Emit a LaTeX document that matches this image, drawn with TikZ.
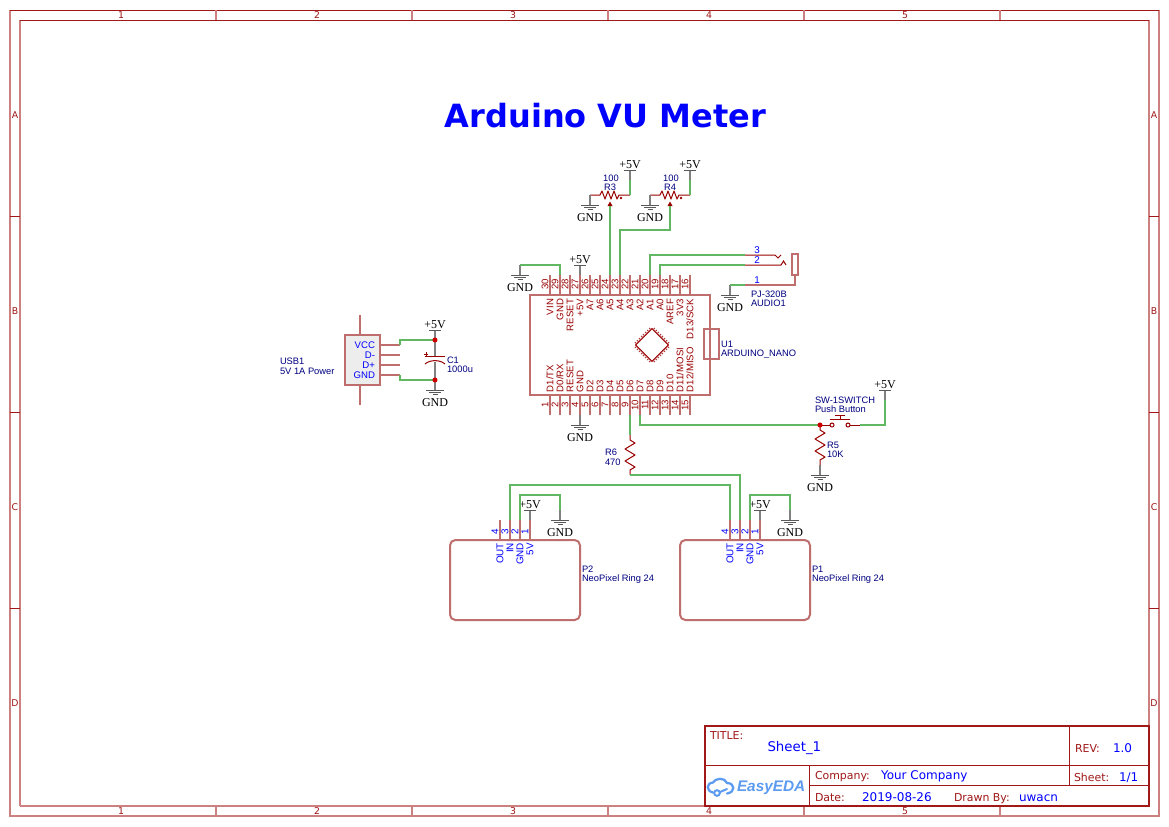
\documentclass[tikz,border=0pt]{standalone}
\usepackage{fontspec}
\usetikzlibrary{calc}
\newfontfamily\lsans{Liberation Sans}
\newfontfamily\lserif{Liberation Serif}
\newfontfamily\dejav{DejaVu Sans}
\definecolor{sch}{HTML}{990000}
\definecolor{schp}{HTML}{BF6E6E}
\definecolor{wirec}{HTML}{62B862}
\definecolor{symc}{HTML}{808080}
\definecolor{lab}{HTML}{000080}
\definecolor{pinb}{HTML}{0000FF}
\definecolor{frm}{HTML}{A01818}
\definecolor{frmp}{HTML}{CC8080}
\definecolor{logoc}{HTML}{5C9BF0}
\tikzset{
 every node/.style={inner sep=0pt,outer sep=0pt},
 frameline/.style={draw=frmp,line width=1.5pt},
 framethin/.style={draw=frm,line width=0.75pt},
 framelabel/.style={text=frm,font=\dejav\fontsize{7}{8}\selectfont},
 part/.style={draw=schp,line width=1.5pt},
 partthin/.style={draw=sch,line width=0.75pt},
 wire/.style={draw=wirec,line width=1.5pt},
 sym/.style={draw=symc,line width=1.5pt},
 symbar/.style={draw=black!65,line width=0.75pt},
 powertext/.style={text=black,font=\lserif\fontsize{9}{10}\selectfont},
 partlabel/.style={text=lab,font=\lsans\fontsize{7}{8}\selectfont,anchor=west},
 pinlabel/.style={text=pinb,font=\lsans\fontsize{7.4}{8}\selectfont},
 pinnum/.style={text=sch,font=\lsans\fontsize{7.2}{8}\selectfont,rotate=90},
 pinname/.style={text=sch,font=\lsans\fontsize{7.2}{8}\selectfont,rotate=90},
 blockk/.style={text=frm,font=\dejav\fontsize{8.2}{9}\selectfont,anchor=base west},
 blockv/.style={text=pinb,font=\dejav\fontsize{9}{10}\selectfont,anchor=base west},
 dot/.style={circle,fill=red!80!black,minimum size=3.8pt}
}
% GND symbol: name, x, y of the wire end
\newcommand{\gndsym}[3]{%
 \coordinate (#1) at (#2,#3);
 \draw[sym] (#1) -- ++(0,10);
 \draw[symbar] ($(#1)+(-9,10)$) -- ++(18,0);
 \draw[symbar] ($(#1)+(-6,12.3)$) -- ++(12,0);
 \draw[symbar] ($(#1)+(-2.5,14.5)$) -- ++(5,0);
 \node[powertext] (#1t) at ($(#1)+(0,22.5)$) {GND};
}
% +5V symbol: name, x, y of the wire end (10 below the bar)
\newcommand{\vccsym}[3]{%
 \coordinate (#1) at (#2,#3);
 \draw[sym] (#1) -- ++(0,-10);
 \draw[symbar] ($(#1)+(-6,-10)$) -- ++(12,0);
 \node[powertext] (#1t) at ($(#1)+(0,-15)$) {+5V};
}
\begin{document}
\begin{tikzpicture}[x=0.75pt,y=-0.75pt]
\useasboundingbox (0,0) rectangle (1169,826);
\fill[white] (0,0) rectangle (1169,826);
% ---------- sheet frame
\draw[frameline] (10,10) -- (10,816) -- (1159,816) -- (1159,10);
\draw[frameline] (20,20) -- (20,806);
\draw[frameline] (1149,20) -- (1149,726);
\draw[frameline] (20,806) -- (705,806);
\draw[framethin] (10,10) -- (1159,10);
\draw[framethin] (20,20) -- (1149,20);
\foreach \x in {216,412,608,804,1000}{
 \draw[frameline] (\x,10) -- (\x,20);
 \draw[frameline] (\x,806) -- (\x,816);}
\foreach \y in {216,412,608}{
 \draw[framethin] (10,\y) -- (20,\y);
 \draw[framethin] (1149,\y) -- (1159,\y);}
\foreach \t/\x in {1/121,2/317,3/513,4/709,5/905}{
 \node[framelabel] (ft\t) at (\x,15.5) {\t};
 \node[framelabel] (fb\t) at (\x,811.5) {\t};}
\foreach \t/\y in {A/115,B/311,C/507,D/703}{
 \node[framelabel] (fl\t) at (15,\y) {\t};
 \node[framelabel] (fr\t) at (1154,\y) {\t};}
% ---------- title
\node[text=pinb,font=\dejav\bfseries\fontsize{24}{28}\selectfont] (maintitle) at (605.5,116) {Arduino VU Meter};
% ---------- title block
\draw[frm,line width=1pt] (705,726) rectangle (1149,806);
\draw[framethin] (705,765) -- (1149,765);
\draw[framethin] (1069,726) -- (1069,785);
\draw[framethin] (809,785) -- (1149,785);
\draw[framethin] (809,765) -- (809,806);
\node[blockk] (tTitle) at (710,739) {TITLE:};
\node[blockv,font=\dejav\fontsize{10}{12}\selectfont] (tSheet) at (767.5,751.5) {Sheet\_1};
\node[blockk] (tRev) at (1075,752) {REV:};
\node[blockv] (tRevv) at (1113,752) {1.0};
\node[blockk] (tComp) at (815,779.5) {Company:};
\node[blockv] (tCompv) at (881,779) {Your Company};
\node[blockk] (tSh) at (1074,781) {Sheet:};
\node[blockv] (tShv) at (1119,781) {1/1};
\node[blockk] (tDate) at (815,801.5) {Date:};
\node[blockv] (tDatev) at (862,801.5) {2019-08-26};
\node[blockk] (tBy) at (954,801.5) {Drawn By:};
\node[blockv] (tByv) at (1019,801.5) {uwacn};
% logo
\draw[logoc,line width=1.7pt,line cap=round,line join=round]
 (713,792.5) .. controls (706,791) and (706,783) .. (713,782.5)
 .. controls (715,778) and (725,777) .. (727,783)
 .. controls (735,783) and (736,792) .. (727,793.5);
\draw[logoc,line width=1.5pt] (717,793) circle (2.8);
\draw[logoc,line width=1.5pt,line cap=round] (720,792) -- (727,789);
\node[text=logoc,anchor=west,font=\lsans\bfseries\itshape\fontsize{11.5}{13}\selectfont] (logotext) at (737,788) {EasyEDA};
% ---------- U1 Arduino Nano
\draw[part] (530,295) rectangle (710,395);
\draw[part] (704,329) rectangle (719,359);
\node[partlabel] (U1a) at (721,344.5) {U1};
\node[partlabel] (U1b) at (721,354) {ARDUINO\_NANO};
\foreach \n/\nm [count=\i from 0] in {30/VIN,29/GND,28/RESET,27/+5V,26/A7,25/A6,24/A5,23/A4,22/A3,21/A2,20/A1,19/A0,18/AREF,17/3V3,16/D13\slash SCK}{
 \pgfmathtruncatemacro{\px}{550+10*\i}
 \coordinate (u\n) at (\px,275);
 \draw[part] (u\n) -- ++(0,20);
 \node[pinnum] (un\n) at (\px-5,284) {\n};
 \node[pinname,anchor=east] (us\n) at (\px,299) {\nm};
}
\foreach \n/\nm [count=\i from 0] in {1/D1\slash TX,2/D0\slash RX,3/RESET,4/GND,5/D2,6/D3,7/D4,8/D5,9/D6,10/D7,11/D8,12/D9,13/D10,14/D11\slash MOSI,15/D12\slash MISO}{
 \pgfmathtruncatemacro{\px}{550+10*\i}
 \coordinate (u\n) at (\px,415);
 \draw[part] (u\n) -- ++(0,-20);
 \node[pinnum] (un\n) at (\px-5,405) {\n};
 \node[pinname,anchor=west] (us\n) at (\px,392) {\nm};
}
% MCU chip diamond
\begin{scope}[shift={(652,345)},rotate=45]
 \draw[partthin] (-11.6,-11.6) rectangle (11.6,11.6);
 \foreach \k in {-10,-7.1,-4.3,-1.4,1.4,4.3,7.1,10}{
  \draw[sch!75,line width=0.8pt] (\k,-11.6) -- (\k,-14);
  \draw[sch!75,line width=0.8pt] (\k,11.6) -- (\k,14);
  \draw[sch!75,line width=0.8pt] (-11.6,\k) -- (-14,\k);
  \draw[sch!75,line width=0.8pt] (11.6,\k) -- (14,\k);
 }
\end{scope}
% ---------- R3, R4
\foreach \nm/\dx/\vv in {R3/0/100,R4/60/100}{
 \begin{scope}[shift={(\dx,0)}]
  \coordinate (\nm l) at (590,195);
  \coordinate (\nm r) at (630,195);
  \coordinate (\nm w) at (610,206);
  \draw[partthin,line join=round] (\nm l) -- (600,195) -- (602,191) -- (605,199) -- (608,191) -- (611,199) -- (614,191) -- (617,199) -- (619,195) -- (\nm r);
  \fill[sch] (610,201.5) -- (612.5,206) -- (607.5,206) -- cycle;
  \fill[sch] (621,198) circle (1.3);
  \node[partlabel,anchor=center] (\nm v) at (611,178) {\vv};
  \node[partlabel,anchor=center] (\nm n) at (610,187) {\nm};
 \end{scope}
}
\gndsym{g3}{590}{195}
\vccsym{v3}{630}{180}
\gndsym{g4}{650}{195}
\vccsym{v4}{690}{180}
\draw[wire] (R3r) -- (v3);
\draw[wire] (R4r) -- (v4);
\draw[wire] (R3w) -- (u24);
\draw[wire] (R4w) |- (620,230) -- (u23);
% ---------- pin 27 +5V, pin 29 GND
\vccsym{v27}{580}{275}
\gndsym{g29}{520}{265}
\draw[wire] (u29) |- (g29);
% ---------- pin 4 GND
\gndsym{g4b}{580}{415}
% ---------- AUDIO1
\coordinate (a3) at (745,255);
\coordinate (a2) at (745,265);
\coordinate (a1) at (745,285);
\draw[partthin] (a3) -- (775,255) -- (778,258) -- (781,255);
\draw[partthin] (a2) -- (781,265) -- (783.5,261) -- (786,265);
\draw[part] (a1) -- (795,285) -- (795,275);
\draw[part] (792,254) rectangle (798,275);
\node[pinlabel] (a3n) at (757,250) {3};
\node[pinlabel] (a2n) at (757,260) {2};
\node[pinlabel] (a1n) at (757,280) {1};
\node[partlabel] (aud1) at (751,294) {PJ-320B};
\node[partlabel] (aud2) at (751,303) {AUDIO1};
\gndsym{ga}{730}{285}
\draw[wire] (u20) |- (a3);
\draw[wire] (u19) |- (a2);
\draw[wire] (ga) -- (a1);
% ---------- USB1
\draw[part,fill=black!7] (345,335) rectangle (380,385);
\draw[part] (360,315) -- (360,335);
\draw[part] (360,385) -- (360,405);
\foreach \n/\t/\y in {1/VCC/345,2/D-/355,3/D+/365,4/GND/375}{
 \coordinate (usb\n) at (400,\y);
 \draw[part] (380,\y) -- (usb\n);
 \node[pinlabel,anchor=east,font=\lsans\fontsize{7.2}{8}\selectfont] (usbt\n) at (375,\y) {\t};
}
\node[partlabel] (usbA) at (280,361) {USB1};
\node[partlabel] (usbB) at (280,371) {5V 1A Power};
% ---------- C1
\coordinate (cj1) at (435,340);
\coordinate (cj2) at (435,380);
\draw[sym] (cj1) -- (435,356);
\draw[sym] (cj2) -- (435,362);
\draw[partthin] (425,356.5) -- (445,356.5);
\draw[partthin] (425,364) .. controls (430,359.5) and (440,359.5) .. (445,364);
\draw[partthin,line width=0.6pt] (424,354) -- (428,354) (426,352) -- (426,356);
\node[partlabel] (C1n) at (447,360) {C1};
\node[partlabel] (C1v) at (447,369) {1000u};
\vccsym{vc}{435}{340}
\gndsym{gc}{435}{380}
\draw[wire] (usb1) |- (cj1);
\draw[wire] (usb4) |- (cj2);
\node[dot] (dc1) at (cj1) {};
\node[dot] (dc2) at (cj2) {};
% ---------- switch and R5
\coordinate (swj) at (820,425);
\coordinate (swr) at (860,425);
\draw[partthin] (swj) -- (830,425);
\draw[partthin] (850,425) -- (swr);
\draw[partthin,fill=white] (832,425) circle (2);
\draw[partthin,fill=white] (848,425) circle (2);
\draw[partthin] (830,419) -- (850,419) (840,419) -- (840,415) (835,415) -- (845,415);
\node[partlabel] (sw1) at (815,400) {SW-1SWITCH};
\node[partlabel] (sw2) at (815,409.5) {Push Button};
\coordinate (r5b) at (820,465);
\draw[partthin,line join=round] (swj) -- (820,430) -- (825,433) -- (815,439) -- (825,445) -- (815,451) -- (825,457) -- (820,460) -- (r5b);
\node[partlabel] (R5n) at (827,445) {R5};
\node[partlabel] (R5v) at (827,454) {10K};
\gndsym{g5}{820}{465}
\vccsym{v5}{885}{400}
\draw[wire] (u10) |- (swj);
\draw[wire] (swr) -| (v5);
\node[dot] (dsw) at (swj) {};
% ---------- R6
\coordinate (r6t) at (630,435);
\coordinate (r6b) at (630,475);
\draw[partthin,line join=round] (r6t) -- (630,440) -- (635,443) -- (625,449) -- (635,455) -- (625,461) -- (635,467) -- (630,470) -- (r6b);
\node[partlabel] (R6n) at (605,452) {R6};
\node[partlabel] (R6v) at (605,462) {470};
\draw[wire] (u9) -- (r6t);
% ---------- P1, P2
\foreach \nm/\dx in {P2/0,P1/230}{
 \begin{scope}[shift={(\dx,0)}]
  \draw[part,rounded corners=4pt] (450,540) rectangle (580,620);
  \foreach \n/\t/\x in {4/OUT/500,3/IN/510,2/GND/520,1/5V/530}{
   \coordinate (\nm p\n) at (\x,520);
   \draw[part] (\nm p\n) -- (\x,540);
   \node[pinlabel,rotate=90] (\nm n\n) at (\x-5,532) {\n};
   \node[pinlabel,rotate=90,anchor=east] (\nm t\n) at (\x,543) {\t};
  }
  \node[partlabel] (\nm a) at (582,569) {\nm};
  \node[partlabel] (\nm b) at (582,579) {NeoPixel Ring 24};
 \end{scope}
}
\vccsym{vp2}{530}{520}
\gndsym{gp2}{560}{510}
\vccsym{vp1}{760}{520}
\gndsym{gp1}{790}{510}
\draw[wire] (P2p2) |- (560,495) -- (gp2);
\draw[wire] (P1p2) |- (790,495) -- (gp1);
\draw[wire] (r6b) -| (P1p3);
\draw[wire] (P2p3) |- (730,485) -- (P1p4);
\end{tikzpicture}
\end{document}
